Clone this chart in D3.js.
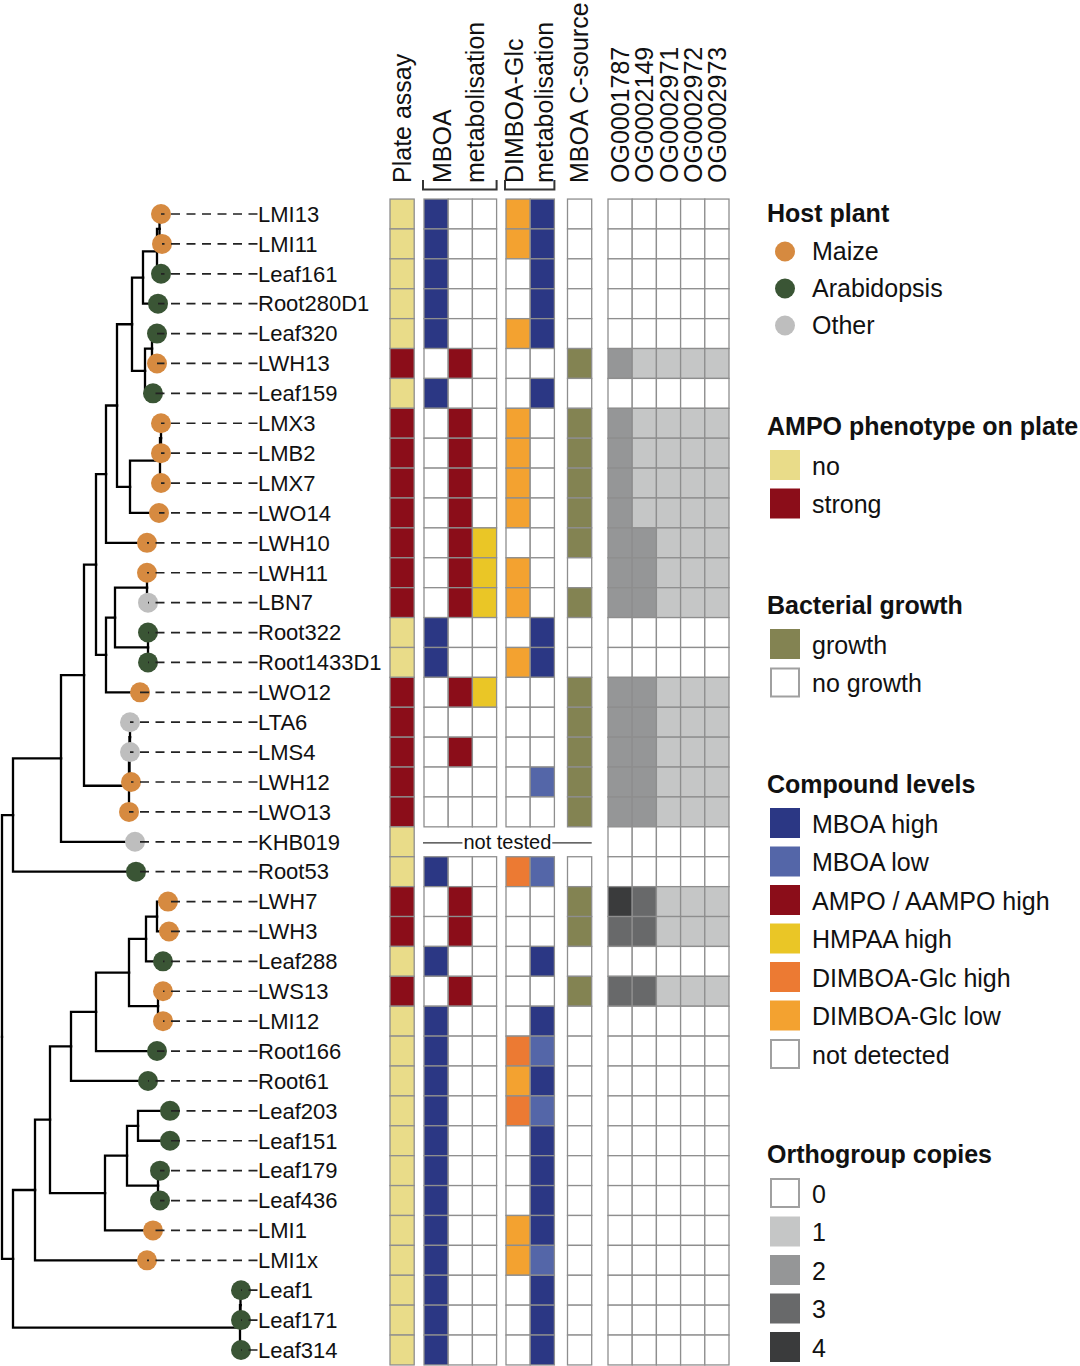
<!DOCTYPE html>
<html>
<head>
<meta charset="utf-8">
<script src="https://cdn.jsdelivr.net/npm/d3@7"></script>
<style>
  body { margin: 0; background: #fff; }
  svg { display: block; font-family: "Liberation Sans", Arial, sans-serif; }
</style>
</head>
<body>
<div id="chart"></div>
<script>
// strains in tree order (top to bottom)
var strains = ["LMI13", "LMI11", "Leaf161", "Root280D1", "Leaf320", "LWH13", "Leaf159", "LMX3", "LMB2", "LMX7",
    "LWO14", "LWH10", "LWH11", "LBN7", "Root322", "Root1433D1", "LWO12", "LTA6", "LMS4", "LWH12",
    "LWO13", "KHB019", "Root53", "LWH7", "LWH3", "Leaf288", "LWS13", "LMI12", "Root166", "Root61",
    "Leaf203", "Leaf151", "Leaf179", "Leaf436", "LMI1", "LMI1x", "Leaf1", "Leaf171", "Leaf314"];

var hostPlant = ["Maize", "Maize", "Arabidopsis", "Arabidopsis", "Arabidopsis", "Maize", "Arabidopsis", "Maize", "Maize", "Maize",
    "Maize", "Maize", "Maize", "Other", "Arabidopsis", "Arabidopsis", "Maize", "Other", "Other", "Maize",
    "Maize", "Other", "Arabidopsis", "Maize", "Maize", "Arabidopsis", "Maize", "Maize", "Arabidopsis", "Arabidopsis",
    "Arabidopsis", "Arabidopsis", "Arabidopsis", "Arabidopsis", "Maize", "Maize", "Arabidopsis", "Arabidopsis", "Arabidopsis"];

// phylogeny, branch lengths in arbitrary units
var newick = "(((((((((((LMI13:1.5,LMI11:2.5):2.5,Leaf161:4):14,Root280D1:15):11,((Leaf320:5,LWH13:5):7,Leaf159:8):13):15," +
    "(((LMX3:0,LMB2:0):1,LMX7:1):30,LWO14:29):13):11,LWH10:41):10," +
    "(((LWH11:0,LBN7:1):32,(Root322:0,Root1433D1:0):33):9,LWO12:34):10):12," +
    "(((LTA6:0,LMS4:0):0.5,LWH12:1.5):0.5,LWO13:0):45):23,KHB019:74):48,Root53:123):11," +
    "((((((((LWH7:11,LWH3:12):11,Leaf288:17):17,(LWS13:5,LMI12:5):29):33,Root166:61):25,Root61:77):21," +
    "(((Leaf203:32,Leaf151:32):11,(Leaf179:2,Leaf436:2):31):22,LMI1:48):55):15,LMI1x:112):22," +
    "((Leaf1:0.5,Leaf171:0.5):0.5,Leaf314:1):227):11);";

// plate assay: n = no, s = strong
var plateAssay = ["n", "n", "n", "n", "n", "s", "n", "s", "s", "s",
    "s", "s", "s", "s", "n", "n", "s", "s", "s", "s",
    "s", "n", "n", "s", "s", "n", "s", "n", "n", "n",
    "n", "n", "n", "n", "n", "n", "n", "n", "n"];

// compound codes: M MBOA high, m MBOA low, A AMPO/AAMPO high, H HMPAA high,
// D DIMBOA-Glc high, d DIMBOA-Glc low, . not detected, null = not tested
var mboaMetab = ["M..", "M..", "M..", "M..", "M..", ".A.", "M..", ".A.", ".A.", ".A.",
    ".A.", ".AH", ".AH", ".AH", "M..", "M..", ".AH", "...", ".A.", "...",
    "...", null, "M..", ".A.", ".A.", "M..", ".A.", "M..", "M..", "M..",
    "M..", "M..", "M..", "M..", "M..", "M..", "M..", "M..", "M.."];

var dimboaMetab = ["dM", "dM", ".M", ".M", "dM", "..", ".M", "d.", "d.", "d.",
    "d.", "..", "d.", "d.", ".M", "dM", "..", "..", "..", ".m",
    "..", null, "Dm", "..", "..", ".M", "..", ".M", "Dm", "dM",
    "Dm", ".M", ".M", ".M", "dM", "dm", ".M", ".M", ".M"];

// MBOA as carbon source: 1 growth, 0 no growth
var cSource = [0, 0, 0, 0, 0, 1, 0, 1, 1, 1,
    1, 1, 0, 1, 0, 0, 1, 1, 1, 1,
    1, null, 0, 1, 1, 0, 1, 0, 0, 0,
    0, 0, 0, 0, 0, 0, 0, 0, 0];

var orthogroups = ["OG0001787", "OG0002149", "OG0002971", "OG0002972", "OG0002973"];
var ogCopies = ["00000", "00000", "00000", "00000", "00000", "21111", "00000", "21111", "21111", "21111",
    "21111", "22111", "22111", "22111", "00000", "00000", "22111", "22111", "22111", "22111",
    "22111", "00000", "00000", "43111", "33111", "00000", "33111", "00000", "00000", "00000",
    "00000", "00000", "00000", "00000", "00000", "00000", "00000", "00000", "00000"];

var hostLevels = ["Maize", "Arabidopsis", "Other"];
var ampoLevels = ["no", "strong"];
var growthLevels = ["growth", "no growth"];
var compoundCodes = ["M", "m", "A", "H", "D", "d", "."];
var compoundLevels = ["MBOA high", "MBOA low", "AMPO / AAMPO high", "HMPAA high", "DIMBOA-Glc high", "DIMBOA-Glc low", "not detected"];
var copyLevels = ["0", "1", "2", "3", "4"];

var width = 1080, height = 1366;
var gridStroke = "#8e8e8e";

var hostColor = d3.scaleOrdinal().domain(hostLevels).range(["#d68a40", "#3a5535", "#bebebe"]);
var ampoColor = d3.scaleOrdinal().domain(["n", "s"]).range(["#e9dc89", "#8b0d19"]);
var growthColor = d3.scaleOrdinal().domain([1, 0]).range(["#838352", "#ffffff"]);
var compoundColor = d3.scaleOrdinal().domain(compoundCodes)
    .range(["#2b3784", "#5466a8", "#8b0d19", "#eac626", "#ec7a33", "#f3a230", "#ffffff"]);
var copyColor = d3.scaleOrdinal().domain(copyLevels)
    .range(["#ffffff", "#c5c6c6", "#959697", "#68696a", "#3a3b3c"]);

var svg = d3.select("#chart").append("svg")
    .attr("width", width)
    .attr("height", height);

var y = d3.scalePoint().domain(strains).range([214, 1350]);
var rowH = y.step();

// ---------- tree ----------
function parseNewick(s) {
    s = s.replace(/\s+/g, "");
    var i = 0;
    function node() {
        var n = {children: []};
        if (s[i] === "(") {
            i++;
            n.children.push(node());
            while (s[i] === ",") {
                i++;
                n.children.push(node());
            }
            i++;
        }
        var name = "";
        while (i < s.length && ",():;".indexOf(s[i]) < 0) name += s[i++];
        n.name = name;
        n.length = 0;
        if (s[i] === ":") {
            i++;
            var len = "";
            while (i < s.length && ",();".indexOf(s[i]) < 0) len += s[i++];
            n.length = +len;
        }
        if (!n.children.length) delete n.children;
        return n;
    }
    return node();
}

var root = d3.hierarchy(parseNewick(newick));
root.eachBefore(function (d) {
    d.dist = d.parent ? d.parent.dist + d.data.length : 0;
});
root.eachAfter(function (d) {
    d.py = d.children ? d3.mean(d.children, function (c) { return c.py; }) : y(d.data.name);
});

var x = d3.scaleLinear()
    .domain([0, d3.max(root.leaves(), function (d) { return d.dist; })])
    .range([2, 241]);

var tree = svg.append("g");

tree.selectAll("path.branch")
    .data(root.links())
    .enter()
    .append("path")
    .attr("class", "branch")
    .attr("fill", "none")
    .attr("stroke", "#000")
    .attr("stroke-width", 2.3)
    .attr("stroke-linecap", "square")
    .attr("d", function (l) {
        return "M" + x(l.source.dist) + "," + l.source.py + "V" + l.target.py + "H" + x(l.target.dist);
    });

var labelX = 257.5;

tree.selectAll("circle.tip")
    .data(root.leaves())
    .enter()
    .append("circle")
    .attr("class", "tip")
    .attr("cx", function (d) { return x(d.dist); })
    .attr("cy", function (d) { return d.py; })
    .attr("r", 10)
    .attr("fill", function (d) { return hostColor(hostPlant[strains.indexOf(d.data.name)]); });

// aligned dashed guides, dash pattern anchored at the label side
tree.selectAll("line.guide")
    .data(root.leaves())
    .enter()
    .append("line")
    .attr("class", "guide")
    .attr("x1", labelX)
    .attr("x2", function (d) { return x(d.dist); })
    .attr("y1", function (d) { return d.py; })
    .attr("y2", function (d) { return d.py; })
    .attr("stroke", "#222")
    .attr("stroke-width", 1.7)
    .attr("stroke-dasharray", "9,6.5");

tree.selectAll("text.tiplab")
    .data(root.leaves())
    .enter()
    .append("text")
    .attr("class", "tiplab")
    .attr("x", labelX + 0.5)
    .attr("y", function (d) { return d.py + 7.8; })
    .attr("font-size", 22)
    .attr("fill", "#111")
    .text(function (d) { return d.data.name; });

// ---------- heatmap ----------
var cellW = 24.2;
var blocks = [
    {key: "plate", x0: 390, n: 1},
    {key: "mboa", x0: 424, n: 3},
    {key: "dimboa", x0: 506, n: 2},
    {key: "csource", x0: 567.5, n: 1},
    {key: "og", x0: 608, n: 5}
];

function cellFill(key, i, j) {
    if (key === "plate") return ampoColor(plateAssay[i]);
    if (key === "mboa") return mboaMetab[i] === null ? null : compoundColor(mboaMetab[i][j]);
    if (key === "dimboa") return dimboaMetab[i] === null ? null : compoundColor(dimboaMetab[i][j]);
    if (key === "csource") return cSource[i] === null ? null : growthColor(cSource[i]);
    return copyColor(ogCopies[i][j]);
}

var cells = [];
strains.forEach(function (s, i) {
    blocks.forEach(function (b) {
        for (var j = 0; j < b.n; j++) {
            var f = cellFill(b.key, i, j);
            if (f !== null) cells.push({x: b.x0 + j * cellW, y: y(s) - rowH / 2, fill: f});
        }
    });
});

var heat = svg.append("g");
heat.selectAll("rect")
    .data(cells)
    .enter()
    .append("rect")
    .attr("x", function (d) { return d.x; })
    .attr("y", function (d) { return d.y; })
    .attr("width", cellW)
    .attr("height", rowH)
    .attr("fill", function (d) { return d.fill; })
    .attr("stroke", gridStroke)
    .attr("stroke-width", 1.3);

// "not tested" row
strains.forEach(function (s, i) {
    if (mboaMetab[i] !== null) return;
    var left = blocks[1].x0 - 1, right = blocks[3].x0 + cellW;
    var t = heat.append("text")
        .attr("x", (left + right) / 2)
        .attr("y", y(s) + 7)
        .attr("text-anchor", "middle")
        .attr("font-size", 20)
        .attr("fill", "#111")
        .text("not tested");
    var bb = t.node().getBBox();
    heat.append("line").attr("x1", left).attr("x2", bb.x - 1)
        .attr("y1", y(s) + 1).attr("y2", y(s) + 1)
        .attr("stroke", "#333").attr("stroke-width", 1.3);
    heat.append("line").attr("x1", bb.x + bb.width + 1).attr("x2", right)
        .attr("y1", y(s) + 1).attr("y2", y(s) + 1)
        .attr("stroke", "#333").attr("stroke-width", 1.3);
});

// column headers
var headers = [
    {text: "Plate assay", x: 411},
    {text: "MBOA", x: 451},
    {text: "metabolisation", x: 484},
    {text: "DIMBOA-Glc", x: 523},
    {text: "metabolisation", x: 553},
    {text: "MBOA C-source", x: 588}
];
orthogroups.forEach(function (og, j) {
    headers.push({text: og, x: blocks[4].x0 + j * cellW + cellW / 2 + 9});
});

svg.append("g").selectAll("text")
    .data(headers)
    .enter()
    .append("text")
    .attr("transform", function (d) { return "translate(" + d.x + ",183) rotate(-90)"; })
    .attr("font-size", 25)
    .attr("fill", "#111")
    .text(function (d) { return d.text; });

// brackets over the metabolisation blocks
[blocks[1], blocks[2]].forEach(function (b) {
    var x0 = b.x0 - 1, x1 = b.x0 + b.n * cellW;
    svg.append("path")
        .attr("d", "M" + x0 + ",180V189.5H" + x1 + "V180")
        .attr("fill", "none")
        .attr("stroke", "#333")
        .attr("stroke-width", 2);
});

// ---------- legend ----------
var lg = svg.append("g").attr("font-size", 25).attr("fill", "#111");
var legX = 767;

function legendTitle(text, yb) {
    lg.append("text").attr("x", legX).attr("y", yb)
        .attr("font-weight", "bold").text(text);
}

function squareLegend(title, yb, labels, colors) {
    legendTitle(title, yb);
    labels.forEach(function (l, k) {
        var top = yb + 15 + k * 38.5;
        var white = colors[k] === "#ffffff";
        lg.append("rect")
            .attr("x", white ? 771 : 770).attr("y", white ? top + 1 : top)
            .attr("width", white ? 28 : 30).attr("height", white ? 28 : 30)
            .attr("fill", colors[k])
            .attr("stroke", white ? "#a0a0a0" : "none")
            .attr("stroke-width", 2);
        lg.append("text").attr("x", 812).attr("y", top + 24.5).text(l);
    });
}

legendTitle("Host plant", 222);
hostLevels.forEach(function (h, k) {
    var cy = 251.5 + k * 37;
    lg.append("circle").attr("cx", 785).attr("cy", cy).attr("r", 10).attr("fill", hostColor(h));
    lg.append("text").attr("x", 812).attr("y", cy + 8).text(h);
});

squareLegend("AMPO phenotype on plate", 435, ampoLevels, ["n", "s"].map(ampoColor));
squareLegend("Bacterial growth", 614, growthLevels, [1, 0].map(growthColor));
squareLegend("Compound levels", 793, compoundLevels, compoundCodes.map(compoundColor));
squareLegend("Orthogroup copies", 1163, copyLevels, copyLevels.map(copyColor));
</script>
</body>
</html>
